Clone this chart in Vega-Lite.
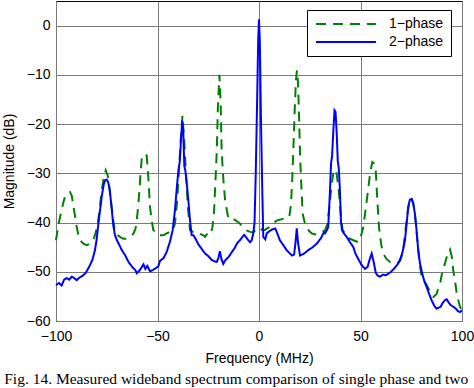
{
  "$schema": "https://vega.github.io/schema/vega-lite/v6.json",
  "autosize": {"type": "none"},
  "width": 406,
  "height": 320,
  "padding": {"left": 56, "top": 1, "right": 12, "bottom": 67},
  "background": "white",
  "title": {
    "text": "Fig. 14.  Measured wideband spectrum comparison of single phase and two",
    "orient": "bottom",
    "anchor": "start",
    "frame": "bounds",
    "font": "Liberation Serif",
    "fontSize": 15.5,
    "fontWeight": "normal",
    "color": "black",
    "offset": 7,
    "dx": 2
  },
  "config": {
    "font": "Liberation Sans",
    "view": {"stroke": "black", "strokeWidth": 1},
    "axis": {
      "labelFont": "Liberation Sans",
      "labelFontSize": 14,
      "labelColor": "black",
      "titleFont": "Liberation Sans",
      "titleFontSize": 14,
      "titleFontWeight": "normal",
      "titleColor": "black",
      "grid": true,
      "gridColor": "#7a7a7a",
      "gridWidth": 1,
      "gridOpacity": 1,
      "ticks": false,
      "domain": false
    },
    "legend": {
      "labelFont": "Liberation Sans",
      "labelFontSize": 14,
      "labelColor": "black"
    }
  },
  "data": {
    "values": [
      {"s":"1−phase","f":-100,"m":-43.6},{"s":"1−phase","f":-99,"m":-41},{"s":"1−phase","f":-98,"m":-38.8},{"s":"1−phase","f":-97.2,"m":-37.5},{"s":"1−phase","f":-96.3,"m":-35.8},{"s":"1−phase","f":-95.6,"m":-34.8},{"s":"1−phase","f":-94.5,"m":-34.2},{"s":"1−phase","f":-93.1,"m":-33.8},{"s":"1−phase","f":-92.2,"m":-34.6},{"s":"1−phase","f":-91.4,"m":-36.8},{"s":"1−phase","f":-90.5,"m":-39},{"s":"1−phase","f":-89.8,"m":-40.9},{"s":"1−phase","f":-89,"m":-42.5},{"s":"1−phase","f":-88.2,"m":-43.6},{"s":"1−phase","f":-86.5,"m":-44.3},{"s":"1−phase","f":-84.9,"m":-44.6},{"s":"1−phase","f":-83.3,"m":-44.3},{"s":"1−phase","f":-81.6,"m":-43.6},{"s":"1−phase","f":-80.4,"m":-42},{"s":"1−phase","f":-79.2,"m":-39.6},{"s":"1−phase","f":-78.3,"m":-36.5},{"s":"1−phase","f":-77.5,"m":-33.5},{"s":"1−phase","f":-76.5,"m":-31},{"s":"1−phase","f":-75.5,"m":-29.4},{"s":"1−phase","f":-74.5,"m":-30.5},{"s":"1−phase","f":-73.5,"m":-33.5},{"s":"1−phase","f":-72.6,"m":-36.8},{"s":"1−phase","f":-71.8,"m":-39.5},{"s":"1−phase","f":-71,"m":-41.6},{"s":"1−phase","f":-69.8,"m":-42.5},{"s":"1−phase","f":-68.5,"m":-42.9},{"s":"1−phase","f":-66.8,"m":-43.3},{"s":"1−phase","f":-65.2,"m":-43.3},{"s":"1−phase","f":-63.5,"m":-42.8},{"s":"1−phase","f":-61.9,"m":-42.3},{"s":"1−phase","f":-60.8,"m":-41.2},{"s":"1−phase","f":-60.2,"m":-39.6},{"s":"1−phase","f":-59.5,"m":-36.5},{"s":"1−phase","f":-58.9,"m":-33.5},{"s":"1−phase","f":-58.3,"m":-29.5},{"s":"1−phase","f":-57.6,"m":-26.4},{"s":"1−phase","f":-56.5,"m":-26.1},{"s":"1−phase","f":-55.3,"m":-26.4},{"s":"1−phase","f":-54.5,"m":-31},{"s":"1−phase","f":-53.7,"m":-36.8},{"s":"1−phase","f":-52.8,"m":-39.8},{"s":"1−phase","f":-52,"m":-41.6},{"s":"1−phase","f":-50.4,"m":-41.8},{"s":"1−phase","f":-48.8,"m":-42.6},{"s":"1−phase","f":-47.1,"m":-42.6},{"s":"1−phase","f":-45.5,"m":-42.2},{"s":"1−phase","f":-43.8,"m":-41.9},{"s":"1−phase","f":-42.2,"m":-41.4},{"s":"1−phase","f":-41.4,"m":-40.2},{"s":"1−phase","f":-40.4,"m":-36},{"s":"1−phase","f":-39.5,"m":-30},{"s":"1−phase","f":-38.6,"m":-23.5},{"s":"1−phase","f":-37.7,"m":-18.3},{"s":"1−phase","f":-36.8,"m":-23.5},{"s":"1−phase","f":-36,"m":-30},{"s":"1−phase","f":-35,"m":-37},{"s":"1−phase","f":-34,"m":-41.6},{"s":"1−phase","f":-32.3,"m":-41.9},{"s":"1−phase","f":-30.7,"m":-41.9},{"s":"1−phase","f":-29,"m":-42.3},{"s":"1−phase","f":-27.4,"m":-42.6},{"s":"1−phase","f":-26.6,"m":-42.9},{"s":"1−phase","f":-25,"m":-42},{"s":"1−phase","f":-24.1,"m":-42.3},{"s":"1−phase","f":-23,"m":-41.2},{"s":"1−phase","f":-22.2,"m":-38.1},{"s":"1−phase","f":-21.5,"m":-32},{"s":"1−phase","f":-20.8,"m":-25.4},{"s":"1−phase","f":-20.2,"m":-16},{"s":"1−phase","f":-19.5,"m":-10},{"s":"1−phase","f":-18.9,"m":-15.5},{"s":"1−phase","f":-18.4,"m":-25.4},{"s":"1−phase","f":-17.6,"m":-31},{"s":"1−phase","f":-16.7,"m":-35.5},{"s":"1−phase","f":-15.1,"m":-39.2},{"s":"1−phase","f":-13,"m":-39.2},{"s":"1−phase","f":-11,"m":-39.7},{"s":"1−phase","f":-9.4,"m":-40.2},{"s":"1−phase","f":-7.8,"m":-41},{"s":"1−phase","f":-6.1,"m":-41.6},{"s":"1−phase","f":-4.4,"m":-41.9},{"s":"1−phase","f":-3,"m":-42},{"s":"1−phase","f":-1.5,"m":-41.5},{"s":"1−phase","f":0,"m":-41},{"s":"1−phase","f":1.5,"m":-41.5},{"s":"1−phase","f":3,"m":-41.5},{"s":"1−phase","f":4,"m":-41.2},{"s":"1−phase","f":5.4,"m":-40.9},{"s":"1−phase","f":7,"m":-40.2},{"s":"1−phase","f":8.7,"m":-39.6},{"s":"1−phase","f":10.5,"m":-39.4},{"s":"1−phase","f":12,"m":-39.2},{"s":"1−phase","f":13.5,"m":-39},{"s":"1−phase","f":14.9,"m":-38.9},{"s":"1−phase","f":15.7,"m":-36.5},{"s":"1−phase","f":16.3,"m":-32},{"s":"1−phase","f":16.9,"m":-25.4},{"s":"1−phase","f":17.6,"m":-17},{"s":"1−phase","f":18.2,"m":-11},{"s":"1−phase","f":18.7,"m":-9.1},{"s":"1−phase","f":19.2,"m":-11.5},{"s":"1−phase","f":19.7,"m":-18},{"s":"1−phase","f":20.2,"m":-26},{"s":"1−phase","f":20.8,"m":-32.1},{"s":"1−phase","f":21.5,"m":-38.2},{"s":"1−phase","f":22.5,"m":-40},{"s":"1−phase","f":23.5,"m":-40.9},{"s":"1−phase","f":24.8,"m":-41.8},{"s":"1−phase","f":26,"m":-42.2},{"s":"1−phase","f":27.5,"m":-42.4},{"s":"1−phase","f":29.2,"m":-42.2},{"s":"1−phase","f":30.8,"m":-41.9},{"s":"1−phase","f":32.5,"m":-41.6},{"s":"1−phase","f":33.5,"m":-40.5},{"s":"1−phase","f":34.5,"m":-37.5},{"s":"1−phase","f":35.6,"m":-33},{"s":"1−phase","f":36.6,"m":-30},{"s":"1−phase","f":37.4,"m":-29.2},{"s":"1−phase","f":38.2,"m":-30},{"s":"1−phase","f":39.2,"m":-33},{"s":"1−phase","f":40.2,"m":-38},{"s":"1−phase","f":41.2,"m":-41.5},{"s":"1−phase","f":42.4,"m":-42.3},{"s":"1−phase","f":43.6,"m":-42.8},{"s":"1−phase","f":44.8,"m":-43.3},{"s":"1−phase","f":46.5,"m":-43.6},{"s":"1−phase","f":48.9,"m":-44},{"s":"1−phase","f":50.2,"m":-42.8},{"s":"1−phase","f":51.4,"m":-40.9},{"s":"1−phase","f":52.3,"m":-38},{"s":"1−phase","f":53.1,"m":-35.5},{"s":"1−phase","f":54,"m":-32.5},{"s":"1−phase","f":54.7,"m":-30.1},{"s":"1−phase","f":55.8,"m":-27.7},{"s":"1−phase","f":56.7,"m":-28},{"s":"1−phase","f":57.5,"m":-29.4},{"s":"1−phase","f":58.3,"m":-35.5},{"s":"1−phase","f":59.1,"m":-40.9},{"s":"1−phase","f":60.2,"m":-44.5},{"s":"1−phase","f":61.2,"m":-46.3},{"s":"1−phase","f":62.8,"m":-47.4},{"s":"1−phase","f":64.5,"m":-48},{"s":"1−phase","f":66,"m":-48.2},{"s":"1−phase","f":67.8,"m":-48.3},{"s":"1−phase","f":69.5,"m":-47.8},{"s":"1−phase","f":70.5,"m":-46.5},{"s":"1−phase","f":71.1,"m":-45.3},{"s":"1−phase","f":72,"m":-42},{"s":"1−phase","f":73,"m":-38.5},{"s":"1−phase","f":74,"m":-36},{"s":"1−phase","f":75,"m":-35},{"s":"1−phase","f":76,"m":-36},{"s":"1−phase","f":77,"m":-39},{"s":"1−phase","f":78,"m":-43.5},{"s":"1−phase","f":79,"m":-48},{"s":"1−phase","f":80.1,"m":-51},{"s":"1−phase","f":81.3,"m":-51.8},{"s":"1−phase","f":82.6,"m":-52.7},{"s":"1−phase","f":84.2,"m":-54},{"s":"1−phase","f":85.9,"m":-55.1},{"s":"1−phase","f":87.5,"m":-54.5},{"s":"1−phase","f":88.5,"m":-53.2},{"s":"1−phase","f":89.2,"m":-52.4},{"s":"1−phase","f":90.3,"m":-50},{"s":"1−phase","f":91.6,"m":-48.3},{"s":"1−phase","f":92.8,"m":-46.5},{"s":"1−phase","f":94.1,"m":-45.5},{"s":"1−phase","f":95,"m":-47},{"s":"1−phase","f":95.7,"m":-49.7},{"s":"1−phase","f":96.6,"m":-52},{"s":"1−phase","f":97.4,"m":-54.4},{"s":"1−phase","f":98.3,"m":-56},{"s":"1−phase","f":99,"m":-57.1},{"s":"1−phase","f":100,"m":-58},
      {"s":"2−phase","f":-100,"m":-52.7},{"s":"2−phase","f":-98.5,"m":-52.3},{"s":"2−phase","f":-97.2,"m":-52.8},{"s":"2−phase","f":-96,"m":-51.6},{"s":"2−phase","f":-94.7,"m":-51.3},{"s":"2−phase","f":-93.5,"m":-51.6},{"s":"2−phase","f":-92.2,"m":-51},{"s":"2−phase","f":-91,"m":-51.3},{"s":"2−phase","f":-89.8,"m":-51.7},{"s":"2−phase","f":-88.5,"m":-51.2},{"s":"2−phase","f":-86.5,"m":-50.7},{"s":"2−phase","f":-85,"m":-50},{"s":"2−phase","f":-83.3,"m":-48.7},{"s":"2−phase","f":-82,"m":-47.5},{"s":"2−phase","f":-80.8,"m":-45.6},{"s":"2−phase","f":-80,"m":-43.5},{"s":"2−phase","f":-79.2,"m":-40.5},{"s":"2−phase","f":-78.3,"m":-37.5},{"s":"2−phase","f":-77.5,"m":-34.8},{"s":"2−phase","f":-76.5,"m":-32.3},{"s":"2−phase","f":-75.8,"m":-31.4},{"s":"2−phase","f":-75,"m":-31.3},{"s":"2−phase","f":-74.3,"m":-31.8},{"s":"2−phase","f":-73.5,"m":-33.5},{"s":"2−phase","f":-72.6,"m":-37},{"s":"2−phase","f":-71.8,"m":-40.5},{"s":"2−phase","f":-71,"m":-42.5},{"s":"2−phase","f":-70,"m":-43.6},{"s":"2−phase","f":-68.5,"m":-44.8},{"s":"2−phase","f":-67.6,"m":-45.6},{"s":"2−phase","f":-66,"m":-46.6},{"s":"2−phase","f":-64.3,"m":-48},{"s":"2−phase","f":-62.5,"m":-49},{"s":"2−phase","f":-61,"m":-49.6},{"s":"2−phase","f":-60.2,"m":-50.3},{"s":"2−phase","f":-59,"m":-49.8},{"s":"2−phase","f":-58,"m":-49.2},{"s":"2−phase","f":-56.9,"m":-48.5},{"s":"2−phase","f":-56,"m":-49.4},{"s":"2−phase","f":-55,"m":-48.8},{"s":"2−phase","f":-53.7,"m":-49.9},{"s":"2−phase","f":-52.5,"m":-49.7},{"s":"2−phase","f":-51,"m":-49.3},{"s":"2−phase","f":-49.6,"m":-48.9},{"s":"2−phase","f":-48.8,"m":-47.8},{"s":"2−phase","f":-47,"m":-47.2},{"s":"2−phase","f":-45.5,"m":-46},{"s":"2−phase","f":-43.8,"m":-43.8},{"s":"2−phase","f":-42.5,"m":-41.5},{"s":"2−phase","f":-41.4,"m":-37.5},{"s":"2−phase","f":-40.5,"m":-33},{"s":"2−phase","f":-39.7,"m":-29.4},{"s":"2−phase","f":-39,"m":-27.5},{"s":"2−phase","f":-38.4,"m":-23},{"s":"2−phase","f":-37.8,"m":-19.3},{"s":"2−phase","f":-37.3,"m":-21.5},{"s":"2−phase","f":-36.8,"m":-28.5},{"s":"2−phase","f":-36.3,"m":-29.4},{"s":"2−phase","f":-35.6,"m":-32},{"s":"2−phase","f":-34.8,"m":-35.5},{"s":"2−phase","f":-34,"m":-39.5},{"s":"2−phase","f":-33.2,"m":-42.5},{"s":"2−phase","f":-32.3,"m":-42.6},{"s":"2−phase","f":-31,"m":-43.5},{"s":"2−phase","f":-29.9,"m":-44.4},{"s":"2−phase","f":-28.5,"m":-45.2},{"s":"2−phase","f":-26.6,"m":-46.3},{"s":"2−phase","f":-25,"m":-46.8},{"s":"2−phase","f":-23.3,"m":-47.6},{"s":"2−phase","f":-21.8,"m":-47.9},{"s":"2−phase","f":-20.8,"m":-48},{"s":"2−phase","f":-20,"m":-47.2},{"s":"2−phase","f":-19.3,"m":-45.8},{"s":"2−phase","f":-18.5,"m":-47.4},{"s":"2−phase","f":-17.6,"m":-48.4},{"s":"2−phase","f":-16.5,"m":-47.6},{"s":"2−phase","f":-15,"m":-47},{"s":"2−phase","f":-13.4,"m":-46},{"s":"2−phase","f":-12,"m":-45.2},{"s":"2−phase","f":-10.8,"m":-44.2},{"s":"2−phase","f":-9.4,"m":-43.6},{"s":"2−phase","f":-8.3,"m":-43},{"s":"2−phase","f":-7.3,"m":-42.5},{"s":"2−phase","f":-6,"m":-43.2},{"s":"2−phase","f":-4.4,"m":-44},{"s":"2−phase","f":-3.6,"m":-43.6},{"s":"2−phase","f":-2.8,"m":-42.2},{"s":"2−phase","f":-2.2,"m":-40},{"s":"2−phase","f":-1.6,"m":-30},{"s":"2−phase","f":-1,"m":-17},{"s":"2−phase","f":-0.4,"m":-3},{"s":"2−phase","f":0,"m":1.3},{"s":"2−phase","f":0.4,"m":-3},{"s":"2−phase","f":1,"m":-20},{"s":"2−phase","f":1.6,"m":-33},{"s":"2−phase","f":2.1,"m":-42.9},{"s":"2−phase","f":3.1,"m":-43.4},{"s":"2−phase","f":3.8,"m":-42.2},{"s":"2−phase","f":5,"m":-41.8},{"s":"2−phase","f":6.5,"m":-41.4},{"s":"2−phase","f":8,"m":-41.2},{"s":"2−phase","f":9,"m":-42.2},{"s":"2−phase","f":10.3,"m":-43.6},{"s":"2−phase","f":12,"m":-44.6},{"s":"2−phase","f":13.6,"m":-45.6},{"s":"2−phase","f":15,"m":-46.2},{"s":"2−phase","f":16.3,"m":-46.7},{"s":"2−phase","f":17.3,"m":-46.5},{"s":"2−phase","f":18,"m":-44},{"s":"2−phase","f":18.6,"m":-41.2},{"s":"2−phase","f":19.2,"m":-44},{"s":"2−phase","f":20.2,"m":-46.7},{"s":"2−phase","f":21.2,"m":-46.5},{"s":"2−phase","f":22.5,"m":-46.2},{"s":"2−phase","f":24.3,"m":-45.6},{"s":"2−phase","f":26.5,"m":-45},{"s":"2−phase","f":28.4,"m":-44.3},{"s":"2−phase","f":30.5,"m":-43.2},{"s":"2−phase","f":31.9,"m":-42},{"s":"2−phase","f":32.5,"m":-42.2},{"s":"2−phase","f":33.5,"m":-41.5},{"s":"2−phase","f":34.1,"m":-40.9},{"s":"2−phase","f":34.8,"m":-35},{"s":"2−phase","f":35.5,"m":-28},{"s":"2−phase","f":36,"m":-26.5},{"s":"2−phase","f":36.6,"m":-21.5},{"s":"2−phase","f":37.2,"m":-17.2},{"s":"2−phase","f":37.7,"m":-17.5},{"s":"2−phase","f":38.3,"m":-22},{"s":"2−phase","f":38.8,"m":-27.5},{"s":"2−phase","f":39.3,"m":-29},{"s":"2−phase","f":39.8,"m":-33},{"s":"2−phase","f":40.4,"m":-40},{"s":"2−phase","f":40.9,"m":-41.6},{"s":"2−phase","f":42,"m":-42.3},{"s":"2−phase","f":43.2,"m":-42.9},{"s":"2−phase","f":44.8,"m":-44},{"s":"2−phase","f":46.5,"m":-45},{"s":"2−phase","f":47.5,"m":-46.3},{"s":"2−phase","f":49,"m":-47.5},{"s":"2−phase","f":50.5,"m":-48.6},{"s":"2−phase","f":52.2,"m":-49.4},{"s":"2−phase","f":53.5,"m":-49},{"s":"2−phase","f":54.5,"m":-47.5},{"s":"2−phase","f":55.5,"m":-46.3},{"s":"2−phase","f":56.5,"m":-48},{"s":"2−phase","f":57.5,"m":-50.2},{"s":"2−phase","f":58.5,"m":-50.8},{"s":"2−phase","f":59.6,"m":-51},{"s":"2−phase","f":61,"m":-50.6},{"s":"2−phase","f":62.5,"m":-50.7},{"s":"2−phase","f":63.7,"m":-50.4},{"s":"2−phase","f":65,"m":-50},{"s":"2−phase","f":66.5,"m":-49.4},{"s":"2−phase","f":68.6,"m":-48.3},{"s":"2−phase","f":70,"m":-47},{"s":"2−phase","f":71,"m":-45.5},{"s":"2−phase","f":71.9,"m":-43.6},{"s":"2−phase","f":72.8,"m":-40},{"s":"2−phase","f":73.5,"m":-36.8},{"s":"2−phase","f":74.3,"m":-35.4},{"s":"2−phase","f":75.2,"m":-35.2},{"s":"2−phase","f":76,"m":-36.2},{"s":"2−phase","f":76.8,"m":-38.2},{"s":"2−phase","f":77.6,"m":-41.5},{"s":"2−phase","f":78.4,"m":-45.5},{"s":"2−phase","f":79.3,"m":-48.3},{"s":"2−phase","f":80.5,"m":-50.5},{"s":"2−phase","f":81.5,"m":-52},{"s":"2−phase","f":82.6,"m":-53.1},{"s":"2−phase","f":83.8,"m":-54.5},{"s":"2−phase","f":85,"m":-55.8},{"s":"2−phase","f":86.5,"m":-57},{"s":"2−phase","f":87.5,"m":-57.5},{"s":"2−phase","f":88.5,"m":-57.3},{"s":"2−phase","f":89.5,"m":-57.1},{"s":"2−phase","f":90.5,"m":-56.3},{"s":"2−phase","f":91.5,"m":-55.8},{"s":"2−phase","f":92.5,"m":-55.6},{"s":"2−phase","f":93.5,"m":-56.3},{"s":"2−phase","f":94.5,"m":-56.8},{"s":"2−phase","f":95.7,"m":-57.1},{"s":"2−phase","f":97,"m":-57.5},{"s":"2−phase","f":98,"m":-58},{"s":"2−phase","f":99,"m":-58.2},{"s":"2−phase","f":100,"m":-57.8}
    ]
  },
  "encoding": {
    "x": {
      "field": "f", "type": "quantitative",
      "scale": {"domain": [-100, 100], "nice": false, "zero": false},
      "axis": {"values": [-100, -50, 0, 50, 100], "title": "Frequency (MHz)", "labelPadding": 8, "titlePadding": 8, "labelFlush": false}
    },
    "y": {
      "field": "m", "type": "quantitative",
      "scale": {"domain": [-60, 5], "nice": false, "zero": false},
      "axis": {"values": [-60, -50, -40, -30, -20, -10, 0], "title": "Magnitude (dB)", "labelPadding": 6, "titlePadding": 10}
    },
    "color": {
      "field": "s", "type": "nominal",
      "scale": {"domain": ["1−phase", "2−phase"], "range": ["#008000", "#0000ff"]},
      "legend": {
        "title": null,
        "orient": "none",
        "legendX": 251,
        "legendY": 9,
        "fillColor": "white",
        "strokeColor": "black",
        "padding": 7,
        "rowPadding": 4,
        "symbolType": "M-1,0L11,0",
        "symbolSize": 100,
        "symbolStrokeWidth": 2,
        "labelOffset": 61,
        "labelFontSize": 14
      }
    },
    "strokeDash": {
      "field": "s", "type": "nominal",
      "scale": {"domain": ["1−phase", "2−phase"], "range": [[10, 7], [1, 0]]},
      "legend": null
    }
  },
  "layer": [
    {
      "transform": [{"filter": "datum.s === '1−phase'"}],
      "mark": {"type": "line", "strokeWidth": 2}
    },
    {
      "transform": [{"filter": "datum.s === '2−phase'"}],
      "mark": {"type": "line", "strokeWidth": 2}
    }
  ]
}
